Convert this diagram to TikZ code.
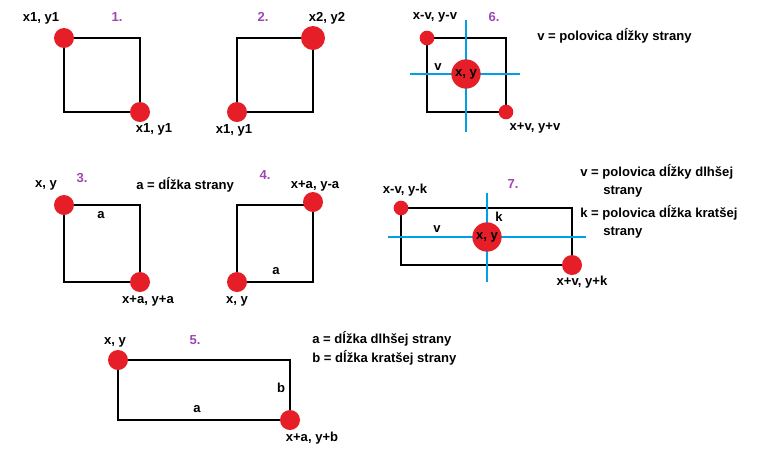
\documentclass[tikz,border=0pt]{standalone}
\usepackage{fontspec}
\setmainfont{Liberation Sans}
\begin{document}
\definecolor{dotred}{RGB}{230,30,40}
\definecolor{lblue}{RGB}{0,160,230}
\definecolor{purp}{RGB}{160,70,180}
\begin{tikzpicture}[x=0.75pt,y=-0.75pt,
  lbl/.style={font=\bfseries\fontsize{9.8}{11}\selectfont,inner sep=0pt},
  num/.style={lbl,text=purp},
  box/.style={draw=black,line width=1.5pt},
  axis/.style={draw=lblue,line width=1.5pt},
  dot/.style={circle,fill=dotred,inner sep=0pt,minimum size=#1},
  dot/.default=15]
\useasboundingbox (0,0) rectangle (768,465);
% 1
\draw[box] (64,38) rectangle (140,112);
\node[dot] (d1a) at (64,38) {}; \node[dot] (d1b) at (140,112) {};
\node[lbl] (t1a) at (41,18) {x1, y1};
\node[lbl] (t1b) at (154,129) {x1, y1};
\node[num] (n1) at (117,17) {1.};
% 2
\draw[box] (237,38) rectangle (313,112);
\node[dot=18] (d2a) at (313,38) {}; \node[dot] (d2b) at (237,112) {};
\node[lbl] (t2a) at (327,18) {x2, y2};
\node[lbl] (t2b) at (234,130) {x1, y1};
\node[num] (n2) at (263,17) {2.};
% 6
\draw[box] (427,38) rectangle (506,112);
\draw[axis] (410,74) -- (520,74);
\draw[axis] (466,20) -- (466,132);
\node[dot=11] (d6a) at (427,38) {}; \node[dot=11] (d6b) at (506,112) {};
\node[dot=22] (d6c) at (466,74) {};
\node[lbl] (t6c) at (466,74) {x, y};
\node[lbl] (t6a) at (435,17) {x-v, y-v};
\node[lbl] (t6v) at (438,67) {v};
\node[lbl] (t6b) at (535,128) {x+v, y+v};
\node[num] (n6) at (494,17) {6.};
\node[lbl,anchor=west] (e6) at (537,36) {v = polovica dĺžky strany};
% 3
\draw[box] (64,205) rectangle (140,282);
\node[dot] (d3a) at (64,205) {}; \node[dot] (d3b) at (140,282) {};
\node[lbl] (t3a) at (46,185) {x, y};
\node[num] (n3) at (82,178) {3.};
\node[lbl] (t3s) at (101,215) {a};
\node[lbl] (t3b) at (148,301) {x+a, y+a};
\node[lbl,anchor=west] (e3) at (136,185) {a = dĺžka strany};
% 4
\draw[box] (237,205) rectangle (313,282);
\node[dot] (d4a) at (313,202) {}; \node[dot] (d4b) at (237,282) {};
\node[lbl] (t4a) at (315,186) {x+a, y-a};
\node[num] (n4) at (265,175) {4.};
\node[lbl] (t4s) at (276,271) {a};
\node[lbl] (t4b) at (237,301) {x, y};
% 7
\draw[box] (401,208) rectangle (572,265);
\draw[axis] (388,237) -- (586,237);
\draw[axis] (487,193) -- (487,282);
\node[dot=11] (d7a) at (401,208) {}; \node[dot=15] (d7b) at (572,265) {};
\node[dot=22] (d7c) at (487,237) {};
\node[lbl] (t7c) at (487,237) {x, y};
\node[lbl] (t7a) at (405,190) {x-v, y-k};
\node[num] (n7) at (513,184) {7.};
\node[lbl] (t7k) at (499,217) {k};
\node[lbl] (t7v) at (437,229) {v};
\node[lbl] (t7b) at (582,282) {x+v, y+k};
\node[lbl,anchor=west] (e7a) at (580,172) {v = polovica dĺžky dlhšej};
\node[lbl,anchor=west] (e7b) at (603,192) {strany};
\node[lbl,anchor=west] (e7c) at (580,213) {k = polovica dĺžka kratšej};
\node[lbl,anchor=west] (e7d) at (603,233) {strany};
% 5
\draw[box] (118,360) rectangle (290,420);
\node[dot] (d5a) at (118,360) {}; \node[dot] (d5b) at (290,420) {};
\node[lbl] (t5a) at (115,342) {x, y};
\node[num] (n5) at (195,340) {5.};
\node[lbl] (t5b) at (281,388) {b};
\node[lbl] (t5a2) at (197,409) {a};
\node[lbl] (t5c) at (312,438) {x+a, y+b};
\node[lbl,anchor=west] (e5a) at (312,339) {a = dĺžka dlhšej strany};
\node[lbl,anchor=west] (e5b) at (312,358) {b = dĺžka kratšej strany};
\end{tikzpicture}
\end{document}
